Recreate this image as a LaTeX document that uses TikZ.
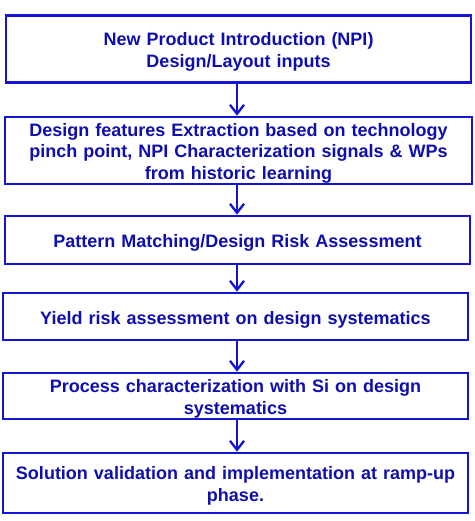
\documentclass[tikz,border=0pt]{standalone}
\usepackage{fontspec}
\setmainfont{Liberation Sans}
\usetikzlibrary{arrows.meta}
\definecolor{boxblue}{RGB}{20,20,215}
\definecolor{textblue}{RGB}{15,15,175}
\begin{document}
\begin{tikzpicture}[x=1pt,y=-1pt,
  stepbox/.style={draw=boxblue,line width=2.6pt,fill=white,text=textblue,
    font=\bfseries\fontsize{18}{21.5}\selectfont,align=center,inner sep=0pt,
    minimum width=465pt,text width=460pt,
    execute at begin node={\rule{0pt}{19.5pt}},
    execute at end node={\rule[-4.5pt]{0pt}{0pt}}},
  flow/.style={draw=boxblue,line width=2.3pt,-{Straight Barb[length=9pt,width=14pt,line width=2.3pt]}}]
\useasboundingbox[fill=white] (0,0) rectangle (474,521);
\node[stepbox,minimum height=67pt] (b1) at (238.5,49) {New Product Introduction (NPI)\\Design/Layout inputs};
\node[stepbox,minimum height=67pt,minimum width=467pt] (b2) at (238.5,150.5) {Design features Extraction based on technology\\pinch point, NPI Characterization signals \& WPs\\from historic learning};
\node[stepbox,minimum height=48pt] (b3) at (237.5,240) {Pattern Matching/Design Risk Assessment};
\node[stepbox,minimum height=47pt] (b4) at (235.5,316.5) {Yield risk assessment on design systematics};
\node[stepbox,minimum height=46pt] (b5) at (235.5,396) {Process characterization with Si on design\\systematics};
\node[stepbox,minimum height=60pt] (b6) at (235.5,483) {Solution validation and implementation at ramp-up\\phase.};
\coordinate (ax) at (237,0);
\draw[flow] (b1.south -| ax) -- (b2.north -| ax);
\draw[flow] (b2.south -| ax) -- (b3.north -| ax);
\draw[flow] (b3.south -| ax) -- (b4.north -| ax);
\draw[flow] (b4.south -| ax) -- (b5.north -| ax);
\draw[flow] (b5.south -| ax) -- (b6.north -| ax);
\end{tikzpicture}
\end{document}
